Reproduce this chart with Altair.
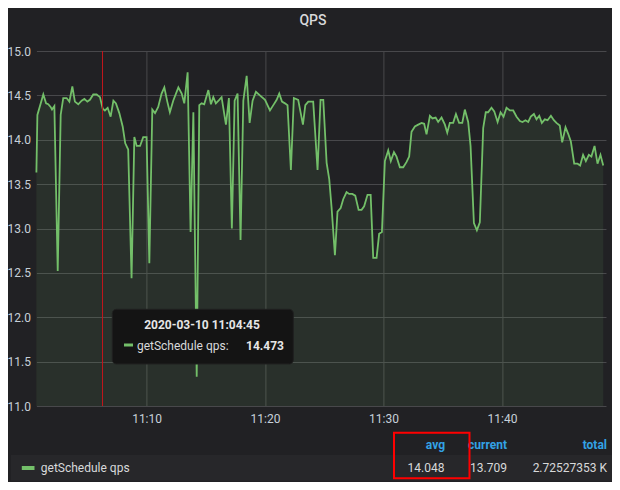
import altair as alt
import pandas as pd

# ---- data (minutes after 11:00, qps) ----
minutes = [
    0.695, 0.779, 1.286, 1.511, 1.707, 1.904, 2.017, 2.214, 2.495, 2.748,
    2.973, 3.255, 3.480, 3.733, 3.958, 4.239, 4.520, 4.745, 4.999, 5.224,
    5.505, 5.786, 6.068, 6.293, 6.489, 6.714, 6.968, 7.193, 7.418, 7.699,
    7.980, 8.205, 8.458, 8.740, 8.965, 9.162, 9.443, 9.724, 10.006, 10.231,
    10.484, 10.709, 10.990, 11.271, 11.497, 11.750, 11.975,
    12.256, 12.678, 12.959, 13.184, 13.466, 13.719, 13.944, 14.225, 14.450, 14.647,
    14.872, 15.210, 15.435, 15.632, 15.857, 16.138, 16.335, 16.700, 16.954, 17.207,
    17.432, 17.685, 17.938, 18.163, 18.445, 18.698, 18.951, 19.232, 19.570, 19.992,
    20.413, 20.695, 20.976, 21.201, 21.426, 21.679, 21.904, 22.186, 22.439, 22.805,
    23.198, 23.395, 23.648, 24.070,
    24.436, 24.689, 24.914, 25.195, 25.420, 25.617, 25.899, 26.124, 26.377, 26.602,
    26.883, 27.108, 27.362, 27.615, 27.896, 28.149, 28.374, 28.656, 28.909, 29.134,
    29.415, 29.640, 29.865, 30.118, 30.399, 30.624, 30.878, 31.103, 31.384, 31.665,
    31.947, 32.172, 32.369, 32.650, 32.931, 33.213, 33.438, 33.634, 33.916, 34.141,
    34.394, 34.619, 34.900, 35.181, 35.378, 35.603, 35.884, 36.110,
    36.250, 36.391, 36.644, 36.869, 37.150, 37.347, 37.629, 37.882, 38.135, 38.416,
    38.641, 38.838, 39.119, 39.344, 39.626, 39.879, 40.132, 40.385, 40.667, 40.948,
    41.229, 41.511, 41.736, 41.989, 42.214, 42.439, 42.692, 42.917, 43.142, 43.367,
    43.620, 43.845, 44.127, 44.380, 44.605, 44.886, 45.083, 45.364, 45.589, 45.814,
    46.096, 46.377, 46.602, 46.855, 47.080, 47.333, 47.558, 47.812, 48.065, 48.318,
    48.543,
]
qps = [
    13.63, 14.28, 14.51, 14.41, 14.40, 14.37, 14.34, 14.38, 12.52, 14.28,
    14.47, 14.47, 14.43, 14.60, 14.43, 14.40, 14.44, 14.46, 14.43, 14.45,
    14.51, 14.51, 14.48, 14.35, 14.33, 14.36, 14.26, 14.44, 14.41, 14.30,
    14.15, 13.96, 13.89, 12.44, 14.03, 13.93, 13.93, 14.03, 14.03, 12.61,
    14.34, 14.30, 14.37, 14.52, 14.59, 14.43, 14.31,
    14.44, 14.59, 14.52, 14.41, 14.76, 12.96, 14.31, 11.33, 14.39, 14.41,
    14.40, 14.56, 14.40, 14.48, 14.41, 14.45, 14.48, 14.17, 14.47, 13.00,
    14.44, 14.52, 12.87, 14.44, 14.72, 14.19, 14.44, 14.54, 14.50, 14.45,
    14.33, 14.39, 14.45, 14.52, 14.43, 14.41, 14.39, 13.66, 14.47, 14.45,
    14.17, 14.39, 14.43, 14.43,
    13.66, 14.45, 14.45, 13.74, 13.56, 13.24, 12.70, 13.19, 13.23, 13.33,
    13.41, 13.39, 13.39, 13.37, 13.21, 13.21, 13.25, 13.38, 13.38, 12.67,
    12.67, 12.94, 12.96, 13.76, 13.88, 13.76, 13.86, 13.81, 13.69, 13.69,
    13.75, 13.81, 14.09, 14.15, 14.17, 14.19, 14.18, 14.06, 14.27, 14.24,
    14.25, 14.20, 14.25, 14.17, 14.08, 14.19, 14.19, 14.29,
    14.24, 14.19, 14.19, 14.34, 14.20, 13.93, 13.06, 12.98, 13.07, 14.13,
    14.31, 14.31, 14.36, 14.32, 14.20, 14.31, 14.26, 14.36, 14.33, 14.33,
    14.26, 14.21, 14.20, 14.22, 14.20, 14.26, 14.29, 14.23, 14.27, 14.19,
    14.23, 14.22, 14.27, 14.22, 14.19, 14.16, 13.97, 14.14, 14.07, 13.98,
    13.73, 13.73, 13.71, 13.83, 13.76, 13.83, 13.81, 13.93, 13.73, 13.83,
    13.71,
]
marker_minute = [6.29]          # red vertical marker
x_ticks = ["11:10", "11:20", "11:30", "11:40"]
y_ticks = [11.0, 11.5, 12.0, 12.5, 13.0, 13.5, 14.0, 14.5, 15.0]
title_text = "QPS"
series_name = "getSchedule qps"
tooltip_time = "2020-03-10 11:04:45"
tooltip_value = "14.473"
legend_headers = ["avg", "current", "total"]
legend_values = ["14.048", "13.709", "2.72527353 K"]

# ---- build table ----
base_time = pd.Timestamp("2020-03-10 11:00:00")
df = pd.DataFrame({
    "t": (base_time + pd.to_timedelta(minutes, unit="min")).round("s"),
    "qps": qps,
})
marker_df = pd.DataFrame({"t": (base_time + pd.to_timedelta(marker_minute, unit="min")).round("s")})

def dt(hh, mm, ss=0):
    return alt.DateTime(year=2020, month=3, date=10, hours=hh, minutes=mm, seconds=ss)

tick_vals = [dt(int(s.split(":")[0]), int(s.split(":")[1])) for s in x_ticks]

W, H = 569.6, 355
GREEN = "#73bf69"
FONT = "Roboto"
TXT = "#d8d9da"

x_enc = alt.X("t:T", title=None,
              scale=alt.Scale(domain=[dt(11, 0, 42), dt(11, 48, 47)]),
              axis=alt.Axis(values=tick_vals, format="%H:%M", grid=True,
                            domain=False, ticks=False, labelPadding=7,
                            labelBaseline="top"))
y_enc = alt.Y("qps:Q", title=None,
              scale=alt.Scale(domain=[11, 15], nice=False, zero=False),
              axis=alt.Axis(values=y_ticks, format=".1f", grid=True,
                            domain=False, ticks=False, labelPadding=6))

area = alt.Chart(df).mark_area(color=GREEN, fillOpacity=0.1, interpolate="linear").encode(
    x=x_enc, y=y_enc, y2=alt.datum(11))
line = alt.Chart(df).mark_line(color=GREEN, strokeWidth=1.8, interpolate="linear").encode(
    x="t:T", y="qps:Q")
marker = alt.Chart(marker_df).mark_rule(color="#c4161c", strokeWidth=1).encode(x="t:T")

one = pd.DataFrame({"a": [0]})

def txt(text, x, y, **kw):
    return alt.Chart(one).mark_text(text=text, font=FONT, baseline="middle", **kw).encode(
        x=alt.value(x), y=alt.value(y))

def box(x1, x2, y1, y2, **kw):
    return alt.Chart(one).mark_rect(**kw).encode(
        x=alt.value(x1), x2=alt.value(x2), y=alt.value(y1), y2=alt.value(y2))

layers = [
    area, line, marker,
    # tooltip
    box(75.9, 256.9, 258.3, 313, fill="#141414", cornerRadius=4, stroke="#202020"),
    txt(tooltip_time, 165.6, 274, fontSize=12, fontWeight="bold", color="#e6e6e6", align="center"),
    box(87.6, 96.6, 292.5, 295.5, fill=GREEN),
    txt(series_name + ":", 100.5, 294.5, fontSize=12, color=TXT, align="left"),
    txt(tooltip_value, 247.6, 294.5, fontSize=12, fontWeight="bold", color="#e6e6e6", align="right"),
    # title
    txt(title_text, 276.6, -30, fontSize=14, fontWeight=500, color=TXT, align="center"),
    # legend table
    box(-25.4, 575.6, 404, 429.7, fill="#27272a"),
    txt(legend_headers[0], 408.6, 394, fontSize=12, fontWeight="bold", color="#33a2e5", align="right"),
    txt(legend_headers[1], 470.6, 394, fontSize=12, fontWeight="bold", color="#33a2e5", align="right"),
    txt(legend_headers[2], 570.6, 394, fontSize=12, fontWeight="bold", color="#33a2e5", align="right"),
    box(-14.6, -1.9, 415, 419, fill=GREEN),
    txt(series_name, 4.4, 416.8, fontSize=12, color=TXT, align="left"),
    txt(legend_values[0], 408.1, 416.8, fontSize=12, color=TXT, align="right"),
    txt(legend_values[1], 470.6, 416.8, fontSize=12, color=TXT, align="right"),
    txt(legend_values[2], 570.6, 416.8, fontSize=12, color=TXT, align="right"),
    box(357.6, 433.1, 381.7, 427.3, filled=False, stroke="#ff0000", strokeWidth=2),
]

chart = alt.layer(*layers).properties(
    width=W, height=H,
    autosize=alt.AutoSizeParams(type="none"),
    padding={"left": 28.4, "top": 43, "right": 6, "bottom": 76},
    background="#212124",
).configure_view(stroke=None).configure_axis(
    labelFont=FONT, labelFontSize=12, labelColor="#c7d0d9",
    gridColor="#48484b", gridWidth=1,
)

chart.save("out.html", embed_options={"renderer": "svg", "actions": False})
